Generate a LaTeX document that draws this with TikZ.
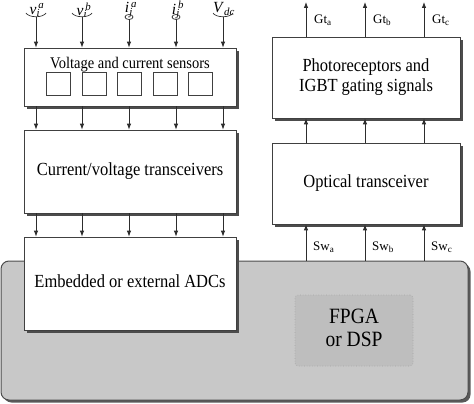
\documentclass[tikz,border=0pt]{standalone}
\usepackage{fontspec}
\setmainfont{Liberation Serif}
\usetikzlibrary{arrows.meta,shadows,calc,shapes.geometric}
\definecolor{boardgray}{RGB}{200,200,200}
\definecolor{chipgray}{RGB}{190,190,190}
\definecolor{linegray}{RGB}{45,45,45}
\newcommand\lblvi[3]{\textit{#1}\rlap{\textsubscript{\textit{#2}}}\textsuperscript{\,\textit{#3}}}
\newcommand\vstr[1]{\scalebox{1}[1.12]{\begin{tabular}{@{}c@{}}#1\end{tabular}}}
\begin{document}
\begin{tikzpicture}[x=1pt,y=-1pt,
  box/.style={draw=black!75, line width=0.7pt, fill=white, inner sep=0pt,
    drop shadow={shadow xshift=3pt, shadow yshift=-3pt, fill=black!70, opacity=1}},
  sq/.style={draw=black!75, line width=0.6pt, minimum width=24pt, minimum height=23pt, inner sep=0pt},
  maintext/.style={font=\fontsize{16.5}{18}\selectfont, align=center},
  arr/.style={draw=linegray, line width=0.8pt, -{Latex[length=6pt,width=4.5pt]}},
  sym/.style={draw=linegray, line width=0.7pt},
  sig/.style={font=\fontsize{13}{15}\selectfont, inner sep=0pt},
  inlbl/.style={font=\fontsize{15.5}{17}\selectfont, inner sep=0pt}
]
\useasboundingbox (0,0) rectangle (474,404);

% board
\node[draw=black!70, line width=1pt, fill=boardgray, rounded corners=8pt,
  minimum width=467pt, minimum height=139pt, inner sep=0pt,
  drop shadow={shadow xshift=2.5pt, shadow yshift=-2.5pt, fill=black!65, opacity=1}]
  (board) at (234.5,330.5) {};
\node[draw=black!35, dotted, line width=0.6pt, fill=chipgray, rounded corners=3pt,
  minimum width=118pt, minimum height=71pt, inner sep=0pt,
  font=\fontsize{19.5}{20}\selectfont, align=center]
  (fpga) at (354,330.5) {\vstr{FPGA\\[1pt]or DSP}};

% left column
\node[box, minimum width=212pt, minimum height=58pt,
  label={[anchor=north, yshift=-4pt, font=\fontsize{14.5}{17}\selectfont]north:\vstr{Voltage and current sensors}}]
  (sens) at (130,77) {};
\node[box, maintext, minimum width=212pt, minimum height=83pt] (trans) at (130,171.5) {\vstr{Current/voltage transceivers}};
\node[box, maintext, minimum width=212pt, minimum height=93pt] (adc) at (130,283.5) {\vstr{Embedded or external ADCs}};

\node[sq] (s1) at (58.5,83.5) {};
\node[sq] (s2) at (94.5,83.5) {};
\node[sq] (s3) at (129.5,83.5) {};
\node[sq] (s4) at (165,83.5) {};
\node[sq] (s5) at (200,83.5) {};

% right column
\node[box, maintext, minimum width=188pt, minimum height=81pt] (photo) at (366,77.5) {\vstr{Photoreceptors and\\[0.5pt]IGBT gating signals}};
\node[box, maintext, minimum width=188pt, minimum height=81pt] (opt) at (366,183.5) {\vstr{Optical transceiver}};

% input labels and sensor symbols
\node[inlbl] (va) at (37,10) {\lblvi{v}{i}{a}};
\node[inlbl] (vb) at (84,10) {\lblvi{v}{i}{b}};
\node[inlbl] (ia) at (131,10) {\lblvi{i}{j}{a}};
\node[inlbl] (ib) at (178,10) {\lblvi{i}{j}{b}};
\node[inlbl] (vdc) at (224,9) {\textit{V}\textsubscript{\textit{dc}}};

\coordinate (c1) at (36,17);
\coordinate (c2) at (82,17);
\coordinate (c3) at (129,19.5);
\coordinate (c4) at (176,19.5);
\coordinate (c5) at (223,17);

\draw[sym] (26,13) .. controls (29,18) and (43,18) .. (46,13);
\draw[sym] (72,13) .. controls (75,18) and (89,18) .. (92,13);
\draw[sym] (213,13) .. controls (216,18) and (230,18) .. (233,13);
\node[sym, ellipse, minimum width=8pt, minimum height=5pt, inner sep=0pt] (e3) at (129,17) {};
\node[sym, ellipse, minimum width=8pt, minimum height=5pt, inner sep=0pt] (e4) at (176,17) {};

\foreach \c in {c1,c2,c3,c4,c5}{
  \draw[arr] (\c) -- (\c |- sens.north);
  \draw[arr] (\c |- sens.south) -- (\c |- trans.north);
  \draw[arr] (\c |- trans.south) -- (\c |- adc.north);
}

% output side
\coordinate (g1) at (306,2);
\coordinate (g2) at (365,2);
\coordinate (g3) at (424,2);
\foreach \g in {g1,g2,g3}{
  \draw[arr] (\g |- photo.north) -- (\g);
  \draw[arr] (\g |- opt.north) -- (\g |- photo.south);
  \draw[arr] (\g |- board.north) -- (\g |- opt.south);
}
\node[sig, anchor=west] (gta) at (314,20) {Gt\textsubscript{a}};
\node[sig, anchor=west] (gtb) at (373,20) {Gt\textsubscript{b}};
\node[sig, anchor=west] (gtc) at (432,20) {Gt\textsubscript{c}};
\node[sig, anchor=west] (swa) at (313,247) {Sw\textsubscript{a}};
\node[sig, anchor=west] (swb) at (372,247) {Sw\textsubscript{b}};
\node[sig, anchor=west] (swc) at (431,247) {Sw\textsubscript{c}};
\end{tikzpicture}
\end{document}
